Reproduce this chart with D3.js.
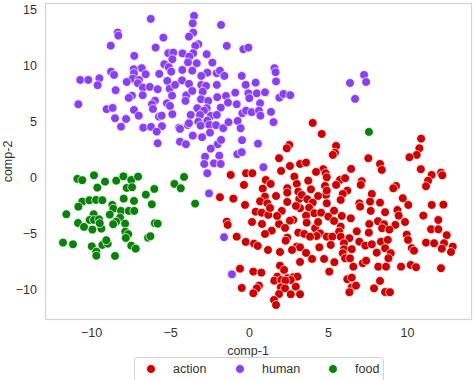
<!DOCTYPE html>
<html>
<head>
<meta charset="utf-8">
<script src="https://cdn.jsdelivr.net/npm/d3@7"></script>
<style>
  html, body { margin: 0; padding: 0; background: #fff; }
  svg { display: block; }
  text { font-family: "Liberation Sans", Arial, sans-serif; }
</style>
</head>
<body>
<svg id="chart" width="474" height="380"></svg>
<script>
const categories = ["action", "human", "food"];
const colors = ["#cf0000", "#8a3ff5", "#0a820a"];
const xTicks = [-10, -5, 0, 5, 10];
const yTicks = [-10, -5, 0, 5, 10, 15];
const xLabel = "comp-1";
const yLabel = "comp-2";

const food = [[-10.86,-0.10],[-10.55,-0.22],[-9.81,0.22],[-9.11,-0.35],[-8.40,-0.26],[-7.95,0.13],[-7.45,-0.20],[-7.02,0.10],[-9.60,-0.88],[-7.74,-0.91],[-7.40,-0.85],[-5.99,-1.00],[-4.72,-0.55],[-4.32,-0.94],[-4.11,0.07],[-3.41,-2.31],[-6.53,-1.51],[-10.55,-2.13],[-10.80,-2.58],[-10.10,-2.01],[-9.68,-1.98],[-9.28,-2.01],[-7.93,-1.87],[-7.28,-2.07],[-8.65,-2.43],[-8.59,-2.76],[-6.15,-2.37],[-11.56,-3.26],[-9.83,-3.26],[-8.81,-3.29],[-8.10,-2.96],[-7.61,-2.96],[-7.26,-2.96],[-10.08,-3.77],[-9.81,-3.77],[-9.49,-3.71],[-10.82,-4.04],[-8.16,-3.56],[-8.41,-3.92],[-8.60,-4.15],[-7.84,-4.10],[-10.44,-4.39],[-9.91,-4.63],[-9.34,-4.54],[-9.45,-4.06],[-5.96,-4.06],[-5.78,-4.10],[-7.83,-4.81],[-7.64,-5.04],[-7.80,-5.38],[-6.39,-5.35],[-6.24,-5.22],[-11.77,-5.79],[-11.14,-5.94],[-9.95,-6.12],[-9.28,-6.00],[-8.94,-5.88],[-9.03,-5.58],[-7.45,-6.06],[-7.17,-6.33],[-9.66,-6.60],[-9.66,-6.96],[-8.48,-6.98],[7.59,4.09]];

const human = [[-6.22,14.18],[-3.48,14.45],[-3.56,13.79],[-1.77,13.64],[-8.31,12.96],[-8.27,12.69],[-3.53,12.96],[-3.80,12.60],[-5.42,12.51],[-8.75,11.79],[-5.91,11.62],[-3.21,11.92],[-3.40,11.77],[-1.41,11.77],[-0.36,11.47],[-0.04,11.62],[-7.26,10.88],[-5.11,11.12],[-4.79,11.17],[-4.21,11.10],[-3.53,11.12],[-3.78,10.81],[-2.68,11.03],[-4.85,10.58],[-3.86,10.30],[-5.36,10.13],[-3.31,10.22],[-2.32,10.28],[-5.08,9.87],[-4.92,9.47],[-4.22,9.62],[-3.59,9.56],[-6.79,9.78],[-7.30,9.69],[-7.28,9.33],[-6.54,9.24],[-5.68,9.27],[-8.73,9.47],[-8.54,9.18],[-2.64,9.38],[-3.02,9.09],[-2.04,9.33],[-1.84,9.56],[-1.56,9.09],[-0.46,9.09],[1.61,9.78],[1.68,9.42],[1.71,8.60],[-7.36,8.85],[-6.96,8.73],[-7.74,8.55],[-7.03,8.44],[-5.17,8.64],[-4.24,8.69],[-10.68,8.73],[-10.17,8.73],[-9.47,8.88],[-9.58,8.26],[-6.71,8.05],[-6.28,8.11],[-5.78,7.90],[-5.02,7.96],[-4.68,8.29],[-3.80,8.38],[-3.02,8.29],[-2.04,8.29],[-0.21,8.29],[0.42,8.49],[-8.44,7.81],[-7.41,7.33],[-7.61,7.13],[-6.73,7.37],[-5.95,6.88],[-6.14,6.56],[-4.87,7.33],[-5.19,6.65],[-3.97,7.35],[-4.02,6.86],[-3.59,7.75],[-2.72,8.20],[-2.93,7.69],[-3.04,7.01],[-2.58,6.86],[-2.01,7.19],[-1.46,7.30],[-0.87,7.60],[-0.04,7.54],[0.49,7.54],[1.01,7.63],[0.02,7.10],[0.70,6.65],[1.92,7.15],[2.18,7.48],[2.61,7.37],[-1.33,6.71],[-0.78,6.56],[-10.80,6.56],[-9.01,6.12],[-8.63,6.23],[-7.28,6.05],[-6.08,6.14],[-5.00,6.41],[-5.70,5.46],[-5.53,5.54],[-4.85,5.67],[-6.98,5.54],[-8.48,5.31],[-7.78,5.25],[-8.10,4.56],[-6.69,4.47],[-6.20,4.54],[-5.51,4.60],[-4.43,4.47],[-3.88,4.71],[-3.27,6.21],[-2.68,6.21],[-2.85,5.99],[-1.79,6.26],[-3.69,5.61],[-3.10,5.61],[-2.42,5.52],[-2.04,5.61],[-0.42,5.76],[-0.19,5.99],[0.17,5.85],[0.63,5.99],[1.39,5.88],[0.72,5.54],[-5.84,4.12],[-5.78,3.08],[-4.37,4.36],[-3.80,4.87],[-3.21,5.01],[-2.64,5.10],[-3.06,4.65],[-2.51,4.71],[-2.09,4.69],[-1.63,4.42],[-1.30,4.96],[-0.72,5.07],[-0.53,4.42],[1.55,4.97],[-4.37,3.22],[-3.99,2.99],[-3.56,3.76],[-2.97,3.62],[-2.47,4.03],[-1.98,2.99],[-1.77,3.38],[-2.42,2.60],[-2.78,1.88],[-2.22,1.29],[-1.88,1.97],[-1.79,1.23],[-2.83,1.23],[-2.64,0.40],[-0.74,2.10],[-0.46,2.28],[0.57,3.04],[0.91,0.94],[-2.53,-1.40],[-1.58,-5.31],[-1.08,-8.62],[6.39,8.46],[7.28,9.18],[7.41,8.55],[6.71,7.04],[-0.44,3.35]];

const action = [[4.03,4.89],[4.60,3.91],[2.55,2.93],[2.39,2.63],[5.51,2.84],[5.44,2.24],[5.30,2.04],[10.89,3.49],[10.78,2.63],[10.61,2.04],[10.15,1.83],[7.55,1.74],[1.90,1.74],
[3.23,1.23],[3.61,1.35],[2.03,0.61],[4.70,0.76],[4.85,0.40],[-1.16,0.25],[-0.19,0.40],[0.21,0.40],[-0.32,-0.64],[1.06,-0.20],[1.37,-0.55],[2.87,0.10],[3.02,-0.55],[3.75,-0.26],[4.92,0.04],[0.87,-0.97],[2.42,-0.94],[2.42,-1.33],[3.12,-1.24],[3.92,-1.03],[-1.84,-1.74],[-0.99,-1.87],[1.01,-1.69],[0.70,-2.10],[1.16,-2.28],[2.42,-2.16],[3.18,-1.89],[3.34,-1.54],[3.69,-1.92],[4.03,-2.22],[3.23,-2.72],[3.80,-2.67],[4.87,-1.54],[4.92,-2.28],[0.42,-3.03],[0.80,-3.12],[1.22,-3.32],[2.07,-2.96],[4.13,-3.17],[4.56,-3.12],[5.02,-3.47],[3.61,-3.38],[3.65,-4.01],[2.80,-3.77],[2.59,-3.83],[1.90,-4.13],[-1.41,-3.92],[-1.35,-4.21],[1.44,-4.72],[3.12,-4.90],[3.50,-5.02],[4.18,-4.51],[4.49,-4.96],[4.92,-5.26],[4.28,-5.20],[3.86,-5.26],[-0.78,-5.26],[-0.21,-5.73],[0.32,-5.88],[0.55,-6.09],[2.42,-5.35],[2.32,-5.62],[3.02,-6.15],[3.23,-6.21],[4.45,-6.21],[4.75,-7.25],[5.08,-8.38],[-0.57,-8.12],[0.27,-8.38],[0.78,-8.47],[1.96,-7.85],[2.22,-8.23],[1.79,-8.83],[1.60,-9.19],[2.42,-8.97],[2.80,-8.88],[3.06,-8.83],[2.04,-9.13],[2.64,-9.13],[2.30,-9.19],[-0.46,-9.84],[0.63,-9.63],[0.49,-9.87],[2.01,-9.78],[2.28,-9.87],[2.96,-9.72],[0.27,-10.31],[1.90,-10.38],[2.64,-10.40],[3.23,-10.40],[1.58,-10.91],[1.71,-11.36],
[1.33,-2.70],[1.77,-3.41],[0.82,-4.13],[2.28,-4.48],[1.01,-5.02],[2.72,-6.45],[3.61,-6.71],[3.99,-7.25],[3.23,-7.52],[1.96,-6.63],[1.20,-6.45],[4.37,-3.95],[2.97,-2.52],[4.37,-1.63],[1.71,-1.63],[0.19,-3.95],[-0.25,-2.43],[2.59,1.05],[4.24,0.52],[5.76,-0.20],
[8.29,1.23],[8.40,0.70],[6.46,0.79],[10.87,0.76],[11.56,0.25],[12.15,0.46],[12.23,0.22],[11.33,-0.26],[11.20,-0.76],[6.08,-0.04],[5.51,-0.64],[7.13,-0.31],[7.07,-0.64],[9.30,-0.73],[9.13,-0.94],[4.81,-0.73],[4.92,-1.15],[6.22,-1.15],[5.93,-1.45],[7.77,-1.45],[9.73,-1.83],
[5.80,-1.98],[6.98,-2.28],[7.66,-2.13],[8.29,-2.22],[10.08,-2.43],[11.56,-2.43],[12.30,-2.40],[5.38,-2.94],[7.03,-2.58],[7.70,-2.96],[8.61,-3.08],[9.39,-2.88],[9.47,-3.38],[11.03,-3.38],[5.87,-3.41],[6.44,-3.62],[5.38,-3.86],[8.16,-3.88],[8.54,-4.15],[8.42,-4.51],[7.61,-4.13],[9.26,-4.21],[9.87,-3.95],[11.98,-3.77],[5.80,-4.37],[5.70,-4.81],[6.82,-4.78],[7.58,-4.90],[8.88,-4.63],[11.52,-4.60],[11.98,-4.60],[5.27,-5.26],[5.80,-5.26],[6.35,-5.40],[9.98,-5.08],[10.06,-5.55],[12.51,-5.13],[5.17,-6.00],[6.01,-5.85],[6.98,-5.71],[7.36,-6.06],[7.77,-5.94],[8.35,-5.71],[8.78,-5.55],[8.61,-6.29],[11.20,-5.79],[11.71,-5.85],[12.34,-5.85],[12.89,-6.15],[10.30,-6.29],[10.44,-6.51],[12.20,-6.33],[12.78,-6.63],[6.01,-6.38],[6.50,-6.38],[8.08,-6.69],[8.97,-6.74],[5.93,-6.74],[6.08,-7.19],[6.39,-7.19],[8.82,-7.19],[5.40,-7.54],[7.20,-7.63],[7.41,-7.40],[6.60,-7.94],[8.18,-7.94],[8.67,-7.94],[9.62,-7.94],[10.23,-7.79],[10.57,-7.99],[12.15,-8.08],[6.22,-9.06],[6.50,-8.92],[8.29,-9.21],[6.50,-9.78],[6.77,-9.63],[7.91,-9.87],[6.35,-10.22],[8.61,-10.20],[8.92,-10.22]];

const seriesData = [action, human, food];

const W = 474, H = 380;
const plot = { left: 45, right: 472, top: 3, bottom: 320 };
const svg = d3.select("#chart");

const x = d3.scaleLinear().domain([-12.91, 14.11]).range([plot.left, plot.right]);
const y = d3.scaleLinear().domain([-12.7, 15.6]).range([plot.bottom, plot.top]);

// frame
svg.append("rect")
  .attr("x", plot.left + 0.5).attr("y", plot.top + 0.5)
  .attr("width", plot.right - plot.left - 1).attr("height", plot.bottom - plot.top - 1)
  .attr("fill", "#fff").attr("stroke", "#d4d4d4").attr("stroke-width", 1.2);

// axes
const xAxis = d3.axisBottom(x).tickValues(xTicks).tickSize(0).tickPadding(8);
const gx = svg.append("g").attr("transform", `translate(0,${plot.bottom})`).call(xAxis);
gx.select(".domain").remove();
gx.selectAll("text").attr("font-size", 12.5).attr("fill", "#333")
  .attr("font-family", "'Liberation Sans', Arial, sans-serif");

const yAxis = d3.axisLeft(y).tickValues(yTicks).tickSize(0).tickPadding(8);
const gy = svg.append("g").attr("transform", `translate(${plot.left},0)`).call(yAxis);
gy.select(".domain").remove();
gy.selectAll("text").attr("font-size", 12.5).attr("fill", "#333")
  .attr("font-family", "'Liberation Sans', Arial, sans-serif");

svg.append("text").attr("x", 248).attr("y", 355)
  .attr("text-anchor", "middle").attr("font-size", 12.5).attr("fill", "#333").text(xLabel);
svg.append("text").attr("transform", `translate(11.5,${(plot.top + plot.bottom) / 2}) rotate(-90)`)
  .attr("text-anchor", "middle").attr("font-size", 12.5).attr("fill", "#333").text(yLabel);

// points
const pts = svg.append("g");
[2, 1, 0].forEach(i => {
  pts.selectAll(null).data(seriesData[i]).enter().append("circle")
    .attr("cx", d => x(d[0])).attr("cy", d => y(d[1]))
    .attr("r", 4.4).attr("fill", colors[i])
    .attr("stroke", "#fff").attr("stroke-width", 0.7);
});

// legend
const lg = svg.append("g");
lg.append("rect").attr("x", 134.5).attr("y", 357.5).attr("width", 249).attr("height", 30)
  .attr("rx", 3).attr("fill", "#fff").attr("stroke", "#d4d4d4").attr("stroke-width", 1);
const legendX = [151, 240, 333];
categories.forEach((c, i) => {
  lg.append("circle").attr("cx", legendX[i]).attr("cy", 369).attr("r", 4.4)
    .attr("fill", colors[i]).attr("stroke", "#fff").attr("stroke-width", 0.7);
  lg.append("text").attr("x", legendX[i] + 22).attr("y", 373).attr("font-size", 12.5)
    .attr("fill", "#333").text(c);
});
</script>
</body>
</html>
